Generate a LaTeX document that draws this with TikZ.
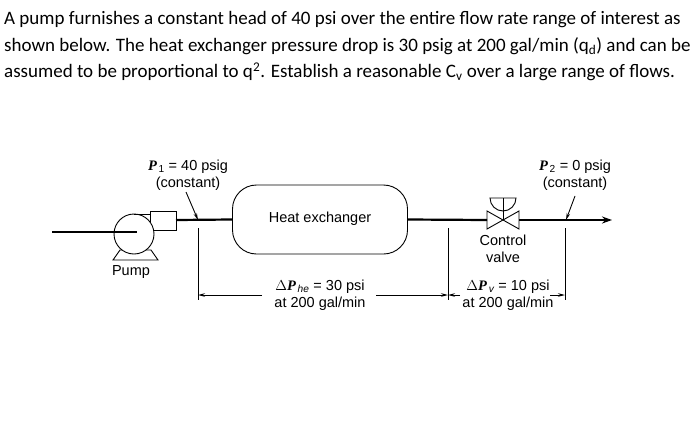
\documentclass[tikz,border=0pt]{standalone}
\usepackage{fontspec}
\setmainfont{Carlito}
\newfontfamily\dfont{Liberation Sans}
\newfontfamily\pfont{Liberation Serif}
\newcommand{\PP}[1]{{\pfont\bfseries\itshape P}\textsubscript{\,#1}}
\usetikzlibrary{arrows.meta}
\begin{document}
\begin{tikzpicture}[x=1pt,y=-1pt,
  ln/.style={line width=0.9pt},
  pipe/.style={line width=2.2pt},
  lbl/.style={font=\dfont\fontsize{14.5}{17}\selectfont,inner sep=0pt,align=center},
  ttl/.style={font=\fontsize{19}{22}\selectfont,anchor=west,inner sep=0pt},
  dim/.style={ln,-{Stealth[length=7pt,width=3.5pt]}}]
\useasboundingbox (0,0) rectangle (700,420);
\node[ttl] (t1) at (4,20) {A pump furnishes a constant head of 40 psi over the entire flow rate range of interest as};
\node[ttl] (t2) at (4,46) {shown below. The heat exchanger pressure drop is 30 psig at 200 gal/min (q\textsubscript{d}) and can be};
\node[ttl] (t3) at (4,72) {assumed to be proportional to q\textsuperscript{2}. Establish a reasonable C\textsubscript{v} over a large range of flows.};
% pump
\draw[ln] (113,260) -- (120,250) -- (151,250) -- (158,260) -- cycle;
\draw[ln,fill=white] (150,211) rectangle (176,230);
\draw[ln,fill=white] (134,234) circle (20);
\draw[ln] (134,214) -- (150,214);
\draw[pipe] (52,232) -- (137,232);
\node[lbl] (pump) at (131,272) {Pump};
% heat exchanger
\node[draw,ln,rounded corners=24pt,minimum width=175pt,minimum height=69pt] (hx) at (320,219.5) {};
\node[lbl] (hxt) at (320,219) {Heat exchanger};
\coordinate (p1) at (198,220);
\draw[pipe] (176,220) -- (hx.west);
% valve
\coordinate (v) at (503,220);
\draw[pipe] (hx.east) -- (487,220);
\draw[ln] (487,211) -- (519,229) -- (519,211) -- (487,229) -- cycle;
\draw[ln] (v) -- (503,198);
\draw[ln] (490,198) arc (180:0:13) -- cycle;
\coordinate (out) at (612,220);
\draw[pipe,-{Stealth[length=10pt,width=7pt]}] (519,220) -- (out);
\node[lbl] (cv) at (503,249) {Control\\valve};
% labels top
\node[lbl] (p1t) at (188,175) {\PP{1} = 40 psig\\(constant)};
\draw[dim] (186,192) -- (p1);
\coordinate (p2) at (566,220);
\node[lbl] (p2t) at (575,175) {\PP{2} = 0 psig\\(constant)};
\draw[dim] (575,196) -- (p2);
% dimension lines
\draw[ln] (198,228) -- (198,300);
\draw[ln] (448,228) -- (448,300);
\draw[ln] (565,228) -- (565,300);
\node[lbl] (he) at (320,295) {$\Delta$\PP{\itshape he} = 30 psi\\at 200 gal/min};
\node[lbl] (dv) at (508,295) {$\Delta$\PP{\itshape v} = 10 psi\\at 200 gal/min};
\draw[dim] (262,295) -- (198,295);
\draw[dim] (376,295) -- (448,295);
\draw[dim] (460,295) -- (448,295);
\draw[dim] (550,295) -- (565,295);
\end{tikzpicture}
\end{document}
